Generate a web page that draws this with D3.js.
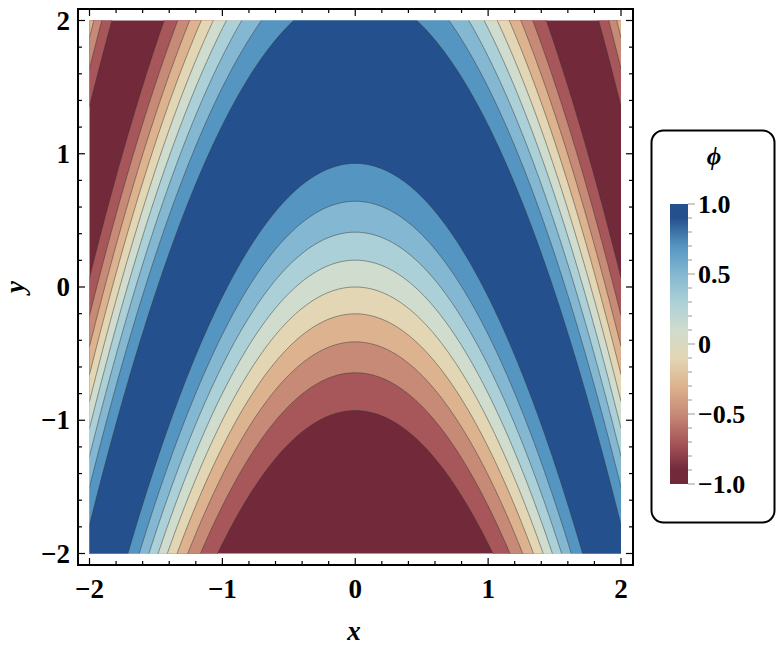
<!DOCTYPE html>
<html><head><meta charset="utf-8">
<script src="https://cdn.jsdelivr.net/npm/d3@7"></script>
<style>body{margin:0;background:#fff}</style></head>
<body><svg id="c" width="784" height="649"></svg>
<script>
// φ(x,y) = sin(y + x²) sampled on a grid
const xDomain = [-2, 2];
const yDomain = [-2, 2];
const thresholds = [-1, -0.8, -0.6, -0.4, -0.2, 0, 0.2, 0.4, 0.6, 0.8, 1];
const bandColors = ["#722a3a","#a75759","#c78a77","#ddb38f","#e3d6b4","#d0dccd","#acd0d7","#84b7d1","#5595c2","#24518d"];
const xTicks = [-2, -1, 0, 1, 2];
const yTicks = [-2, -1, 0, 1, 2];
const barTicks = [1.0, 0.5, 0, -0.5, -1.0];
const barTickLabels = ["1.0","0.5","0","\u22120.5","\u22121.0"];
const N = 241;
const grid = [];
for (let j = 0; j < N; j++) for (let i = 0; i < N; i++) {
  const x = xDomain[0] + (xDomain[1]-xDomain[0])*i/(N-1);
  const y = yDomain[1] - (yDomain[1]-yDomain[0])*j/(N-1);
  grid.push(Math.sin(y + x*x));
}
const svg = d3.select("#c");
const X0=89.5, X1=621, Y0=20.5, Y1=553.5;
const sx = d3.scaleLinear().domain(xDomain).range([X0,X1]);
const sy = d3.scaleLinear().domain(yDomain).range([Y1,Y0]);
const contours = d3.contours().size([N,N]).thresholds(thresholds.slice(0,-1).map((t,i)=>i==0?-2:t))(grid);
const gx = d3.scaleLinear().domain([0,N-1]).range([X0,X1]);
const gy = d3.scaleLinear().domain([0,N-1]).range([Y0,Y1]);
const path = d3.geoPath(d3.geoTransform({point(x,y){this.stream.point(gx(x-0.5),gy(y-0.5));}}));
svg.append("defs").append("clipPath").attr("id","cp").append("rect").attr("x",X0).attr("y",Y0).attr("width",X1-X0).attr("height",Y1-Y0);
svg.append("g").attr("clip-path","url(#cp)").selectAll("path").data(contours).join("path")
  .attr("d",path).attr("fill",(d,i)=>bandColors[i])
  .attr("stroke",(d,i)=>i==0?"none":"#333").attr("stroke-width",0.6).attr("stroke-opacity",0.8);
// frame
const F0=78, F1=633, G0=9, G1=565;
svg.append("rect").attr("x",F0).attr("y",G0).attr("width",F1-F0).attr("height",G1-G0).attr("fill","none").attr("stroke","#000").attr("stroke-width",2);
const minor = d3.range(-2,2.001,0.2);
const tk = svg.append("g").attr("stroke","#000").attr("stroke-width",1.2);
minor.forEach(v=>{
  const major = Math.abs(v-Math.round(v))<1e-6; const L = major?7:4;
  tk.append("line").attr("x1",sx(v)).attr("x2",sx(v)).attr("y1",G1).attr("y2",G1-L);
  tk.append("line").attr("x1",sx(v)).attr("x2",sx(v)).attr("y1",G0).attr("y2",G0+L);
  tk.append("line").attr("y1",sy(v)).attr("y2",sy(v)).attr("x1",F0).attr("x2",F0+L);
  tk.append("line").attr("y1",sy(v)).attr("y2",sy(v)).attr("x1",F1).attr("x2",F1-L);
});
const font = "'Times New Roman', 'Liberation Serif', 'DejaVu Serif', serif";
const fmt = v => v<0 ? "\u2212"+(-v) : ""+v;
svg.append("g").selectAll("text").data(xTicks).join("text").attr("x",d=>sx(d)).attr("y",598)
  .attr("text-anchor","middle").attr("font-family",font).attr("font-weight","bold").attr("font-size",27).text(fmt);
svg.append("g").selectAll("text").data(yTicks).join("text").attr("x",70).attr("y",d=>sy(d)+9)
  .attr("text-anchor","end").attr("font-family",font).attr("font-weight","bold").attr("font-size",27).text(fmt);
svg.append("text").attr("x",354).attr("y",640).attr("text-anchor","middle").attr("font-family",font).attr("font-weight","bold").attr("font-style","italic").attr("font-size",27).text("x");
svg.append("text").attr("transform","translate(24,287) rotate(-90)").attr("text-anchor","middle").attr("font-family",font).attr("font-weight","bold").attr("font-style","italic").attr("font-size",27).text("y");
// legend
svg.append("rect").attr("x",651.5).attr("y",130.5).attr("width",123).attr("height",392).attr("rx",12).attr("fill","#fff").attr("stroke","#000").attr("stroke-width",2);
svg.append("text").attr("x",714).attr("y",165).attr("text-anchor","middle").attr("font-family",font).attr("font-weight","bold").attr("font-style","italic").attr("font-size",25).text("\u03d5");
const bs = d3.scaleLinear().domain([-1,1]).range([484,204]);
const grad = svg.select("defs").append("linearGradient").attr("id","lg").attr("x1",0).attr("x2",0).attr("y1",1).attr("y2",0);
thresholds.slice(0,-1).forEach((t,i)=>grad.append("stop").attr("offset",(i+0.5)/10).attr("stop-color",bandColors[i]));
svg.append("rect").attr("x",670).attr("y",bs(1)).attr("width",18).attr("height",bs(-1)-bs(1)).attr("fill","url(#lg)");
d3.range(-1,1.001,0.1).forEach(v=>{
  svg.append("line").attr("x1",688).attr("x2",Math.abs(v*2-Math.round(v*2))<1e-6?695:692).attr("y1",bs(v)).attr("y2",bs(v)).attr("stroke","#999").attr("stroke-width",1);
});
svg.append("g").selectAll("text").data(barTicks).join("text").attr("x",698).attr("y",d=>bs(d)+9)
  .attr("font-family",font).attr("font-weight","bold").attr("font-size",26).text((d,i)=>barTickLabels[i]);
</script></body></html>
